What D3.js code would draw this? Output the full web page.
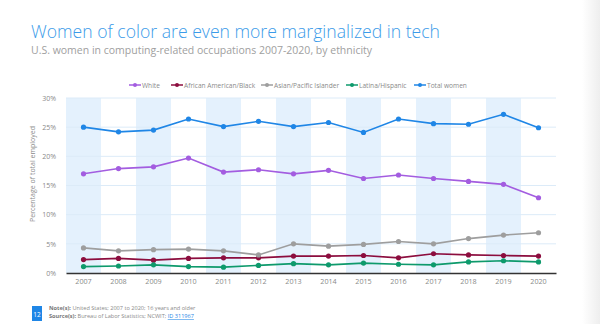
<!DOCTYPE html>
<html>
<head>
<meta charset="utf-8">
<script src="https://cdn.jsdelivr.net/npm/d3@7"></script>
<style>
  html, body { margin: 0; padding: 0; background: #fff; }
  svg { display: block; font-family: "Open Sans", "Noto Sans", sans-serif; }
</style>
</head>
<body>
<svg id="chart" width="600" height="324"></svg>
<script>
// data
var years = [2007, 2008, 2009, 2010, 2011, 2012, 2013, 2014, 2015, 2016, 2017, 2018, 2019, 2020];
var white = [17.0, 17.9, 18.2, 19.7, 17.3, 17.7, 17.0, 17.6, 16.2, 16.8, 16.2, 15.7, 15.2, 12.9];
var black = [2.3, 2.5, 2.2, 2.5, 2.6, 2.6, 2.9, 2.9, 3.0, 2.6, 3.3, 3.1, 3.0, 2.9];
var asian = [4.3, 3.8, 4.0, 4.1, 3.8, 3.1, 5.0, 4.6, 4.9, 5.4, 5.0, 5.9, 6.5, 6.9];
var latina = [1.1, 1.2, 1.4, 1.1, 1.0, 1.3, 1.6, 1.4, 1.7, 1.5, 1.4, 1.9, 2.1, 1.9];
var total = [25.0, 24.2, 24.5, 26.4, 25.1, 26.0, 25.1, 25.8, 24.1, 26.4, 25.6, 25.5, 27.2, 24.9];
var yTicks = [0, 5, 10, 15, 20, 25, 30];

var series = [
  { name: 'White', values: white, color: '#a35de0' },
  { name: 'African American/Black', values: black, color: '#8c0d3e' },
  { name: 'Asian/Pacific Islander', values: asian, color: '#9e9e9e' },
  { name: 'Latina/Hispanic', values: latina, color: '#0e9a6c' },
  { name: 'Total women', values: total, color: '#1f86e6' }
];

var svg = d3.select('#chart');

// page edge shading on the right
var grad = svg.append('defs').append('linearGradient').attr('id', 'edge');
grad.append('stop').attr('offset', '0%').attr('stop-color', '#ffffff');
grad.append('stop').attr('offset', '100%').attr('stop-color', '#eeeeee');
svg.append('rect').attr('x', 582).attr('y', 0).attr('width', 18).attr('height', 324).attr('fill', 'url(#edge)');

svg.append('text')
  .attr('x', 31).attr('y', 38)
  .attr('font-size', 17.6).attr('font-weight', 300)
  .attr('fill', '#3b9be9')
  .text('Women of color are even more marginalized in tech');

svg.append('text')
  .attr('x', 31).attr('y', 54)
  .attr('font-size', 10.5)
  .attr('fill', '#a0a0a0')
  .text('U.S. women in computing-related occupations 2007-2020, by ethnicity');

var plotLeft = 66, plotRight = 556, plotTop = 98, plotBottom = 273;

var x = d3.scaleBand().domain(years).range([plotLeft, plotRight]).padding(0);
var y = d3.scaleLinear().domain([0, 30]).range([plotBottom, plotTop]);

// alternating bands
svg.append('g').selectAll('rect')
  .data(years.filter(function(d, i) { return i % 2 === 0; }))
  .enter().append('rect')
  .attr('x', function(d) { return x(d); })
  .attr('y', plotTop)
  .attr('width', x.bandwidth())
  .attr('height', plotBottom - plotTop)
  .attr('fill', '#e4f1fd');

// gridlines
svg.append('g').selectAll('line')
  .data(yTicks.slice(1))
  .enter().append('line')
  .attr('x1', plotLeft).attr('x2', plotRight)
  .attr('y1', function(d) { return y(d); })
  .attr('y2', function(d) { return y(d); })
  .attr('stroke', '#dcebf8').attr('stroke-width', 1);

// y axis labels
var yAxis = svg.append('g')
  .attr('transform', 'translate(' + (plotLeft - 7) + ',0)')
  .call(d3.axisLeft(y).tickValues(yTicks).tickSize(0).tickFormat(function(d) { return d + '%'; }));
yAxis.select('.domain').remove();
yAxis.selectAll('text').attr('font-size', 7).attr('fill', '#8a8a8a').attr('font-family', '"Open Sans", sans-serif');

// x axis
var xAxis = svg.append('g')
  .attr('transform', 'translate(0,' + plotBottom + ')')
  .call(d3.axisBottom(x).tickSize(0).tickPadding(6));
xAxis.select('.domain').attr('stroke', '#333').attr('stroke-width', 1.5);
xAxis.selectAll('text').attr('font-size', 7.2).attr('fill', '#8a8a8a').attr('font-family', '"Open Sans", sans-serif');

svg.append('text')
  .attr('transform', 'translate(35,174) rotate(-90)')
  .attr('text-anchor', 'middle')
  .attr('font-size', 7)
  .attr('fill', '#8a8a8a')
  .text('Percentage of total employed');

var cx = function(d, i) { return x(years[i]) + x.bandwidth() / 2; };
var line = d3.line()
  .x(function(d, i) { return cx(d, i); })
  .y(function(d) { return y(d); });

var g = svg.append('g').selectAll('g')
  .data(series)
  .enter().append('g');

g.append('path')
  .attr('d', function(s) { return line(s.values); })
  .attr('fill', 'none')
  .attr('stroke', function(s) { return s.color; })
  .attr('stroke-width', 1.6);

g.each(function(s) {
  d3.select(this).selectAll('circle')
    .data(s.values)
    .enter().append('circle')
    .attr('cx', cx)
    .attr('cy', function(d) { return y(d); })
    .attr('r', 2.6)
    .attr('fill', s.color);
});

// legend
var legendX = [129, 171, 261, 346, 414];
var lg = svg.append('g').selectAll('g')
  .data(series)
  .enter().append('g')
  .attr('transform', function(s, i) { return 'translate(' + legendX[i] + ',85)'; });
lg.append('line').attr('x1', 0).attr('x2', 12).attr('y1', 0).attr('y2', 0)
  .attr('stroke', function(s) { return s.color; }).attr('stroke-width', 1.5);
lg.append('circle').attr('cx', 6).attr('cy', 0).attr('r', 2)
  .attr('fill', function(s) { return s.color; });
lg.append('text').attr('x', 13).attr('y', 2.5)
  .attr('font-size', 6.6).attr('fill', '#8a8a8a')
  .text(function(s) { return s.name; });

// footer
svg.append('rect').attr('x', 32).attr('y', 306).attr('width', 10).attr('height', 15).attr('fill', '#1f86e6');
svg.append('text').attr('x', 37).attr('y', 316.5).attr('text-anchor', 'middle')
  .attr('font-size', 6.5).attr('fill', '#fff').text('12');

var note = svg.append('text').attr('x', 49).attr('y', 310).attr('font-size', 5.6).attr('fill', '#8a8a8a');
note.append('tspan').attr('font-weight', 700).attr('fill', '#777').text('Note(s): ');
note.append('tspan').text('United States; 2007 to 2020; 16 years and older');

var src = svg.append('text').attr('x', 49).attr('y', 318).attr('font-size', 5.6).attr('fill', '#8a8a8a');
src.append('tspan').attr('font-weight', 700).attr('fill', '#777').text('Source(s): ');
src.append('tspan').text('Bureau of Labor Statistics; NCWIT; ');
src.append('tspan').attr('fill', '#1f86e6').attr('text-decoration', 'underline').text('ID 311967');
</script>
</body>
</html>
